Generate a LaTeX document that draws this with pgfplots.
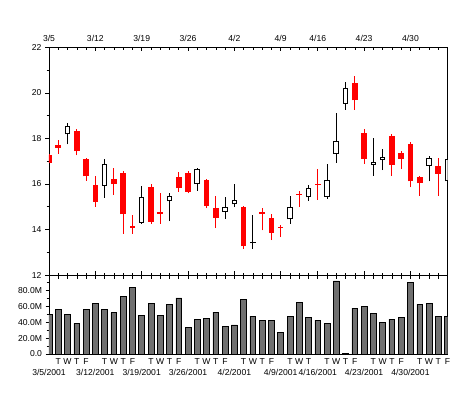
\documentclass[border=0pt]{standalone}
\usepackage{fontspec}
\setmainfont{Liberation Sans}
\usepackage{pgfplots}
\usepackage{pgfplotstable}
\pgfplotsset{compat=1.18}
\definecolor{volgray}{RGB}{112,112,112}

\pgfplotstableread{
x o h l c
0 17.28 17.32 16.92 16.94
1 17.70 17.93 17.33 17.60
3 18.35 18.42 17.26 17.45
4 17.09 17.16 16.14 16.33
5 15.97 16.33 15.01 15.23
7 16.24 16.72 15.52 16.00
8 16.48 16.58 13.82 14.66
9 14.14 14.62 13.82 14.08
11 15.85 16.00 14.25 14.35
12 14.75 15.60 14.25 14.70
14 16.29 16.54 15.66 15.82
15 16.50 16.58 15.59 15.66
17 16.17 16.22 14.94 15.05
18 14.94 15.46 14.06 14.50
21 14.98 15.05 13.16 13.26
23 14.75 14.95 13.96 14.70
24 14.50 14.66 13.53 13.86
25 14.13 14.18 13.67 14.08
27 15.56 15.70 15.01 15.51
29 16.02 16.65 15.30 15.97
33 20.46 20.75 19.27 19.68
34 18.25 18.42 16.90 17.12
37 18.10 18.21 16.36 16.84
38 17.38 17.45 16.65 17.12
39 17.74 17.84 15.85 16.11
40 16.29 16.36 15.49 16.03
42 16.77 17.13 15.49 16.44
}\downdata

\pgfplotstableread{
x o h l c
2 18.18 18.69 17.74 18.57
6 15.92 17.09 15.39 16.90
10 14.30 15.90 14.25 15.43
13 15.24 15.59 14.37 15.49
16 16.00 16.72 15.71 16.65
19 14.79 15.41 14.47 14.98
20 15.10 16.00 14.98 15.30
22 13.39 14.62 13.16 13.43
26 14.44 15.46 14.25 14.97
28 15.41 15.97 15.27 15.81
30 15.43 16.87 15.36 16.18
31 17.31 19.12 16.94 17.89
32 19.53 20.50 19.27 20.24
35 16.85 18.00 16.36 16.95
36 17.05 17.53 16.61 17.20
41 16.80 17.23 16.11 17.13
43 16.11 17.15 16.05 17.09
}\updata

\pgfplotstableread{
x v
0 50.0
1 56.0
2 49.6
3 38.3
4 56.0
5 63.3
6 56.0
7 51.7
8 71.7
9 83.3
10 48.3
11 63.3
12 48.3
13 61.7
14 70.4
15 33.3
16 43.3
17 44.6
18 52.5
19 34.2
20 36.5
21 68.3
22 47.5
23 42.5
24 41.7
25 27.5
26 46.7
27 64.6
28 45.4
29 42.5
30 38.75
31 91.7
32 0.8
33 57.5
34 59.6
35 50.8
36 39.6
37 43.75
38 45.4
39 89.6
40 62.1
41 63.75
42 47.5
43 46.7
}\voldata

\pgfplotsset{
  every axis/.append style={
    /pgf/number format/assume math mode=true,
    tick label style={font=\fontsize{8.6}{10}\selectfont},
    axis line style={line width=0.8pt, black},
    tick style={line width=0.6pt, black},
  },
  wick/.style={draw=none, mark=none, forget plot,
    error bars/.cd, y dir=plus, y explicit, error mark=none,
    error bar style={line width=0.8pt, draw=#1}},
  body/.style={draw=none, mark=none, forget plot,
    error bars/.cd, y dir=plus, y explicit, error mark=none,
    error bar style={line width=5.6pt, draw=#1}},
  inner/.style={draw=none, mark=none, forget plot,
    error bars/.cd, y dir=plus, y explicit, error mark=none,
    error bar style={line width=3.6pt, draw=white}},
}

\begin{document}
\begin{tikzpicture}
\path[use as bounding box] (0,0) rectangle (474pt,-412pt);

\begin{axis}[
  at={(49pt,-47.5pt)}, anchor=north west,
  width=398.5pt, height=227.5pt, scale only axis,
  xmin=0, xmax=43, ymin=12, ymax=22,
  xtick={0,5,10,15,20,25,29,34,39},
  xticklabels={3/5,3/12,3/19,3/26,4/2,4/9,4/16,4/23,4/30},
  minor xtick={0,...,43},
  xtick pos=both, xticklabel pos=right,
  xtick align=inside,
  xticklabel style={yshift=2pt},
  ytick={12,14,16,18,20,22},
  minor ytick={13,15,17,19,21},
  ytick pos=left, ytick align=outside,
  major tick length=4pt, minor tick length=2.5pt,
]
\addplot[wick=red] table[x=x, y=l, y error plus expr=\thisrow{h}-\thisrow{l}] {\downdata};
\addplot[wick=black] table[x=x, y=l, y error plus expr=\thisrow{h}-\thisrow{l}] {\updata};
\addplot[body=red] table[x=x, y=c, y error plus expr=\thisrow{o}-\thisrow{c}] {\downdata};
\addplot[body=black] table[x=x, y=o, y error plus expr=\thisrow{c}-\thisrow{o}] {\updata};
\addplot[inner] table[x=x, y expr=\thisrow{o}+0.045, y error plus expr={max(\thisrow{c}-\thisrow{o}-0.09,0)}] {\updata};
\end{axis}

\begin{axis}[
  at={(49pt,-275pt)}, anchor=north west,
  width=398.5pt, height=79pt, scale only axis,
  xmin=0, xmax=43, ymin=0, ymax=99,
  xtick={0,5,10,15,20,25,29,34,39},
  xticklabels={{\strut\\3/5/2001},{\strut\\3/12/2001},{\strut\\3/19/2001},{\strut\\3/26/2001},{\strut\\4/2/2001},{\strut\\4/9/2001},{\strut\\4/16/2001},{\strut\\4/23/2001},{\strut\\4/30/2001}},
  extra x ticks={1,2,3,4,6,7,8,9,11,12,13,14,16,17,18,19,21,22,23,24,26,27,28,30,31,32,33,35,36,37,38,40,41,42,43},
  extra x tick labels={\strut T,\strut W,\strut T,\strut F,\strut T,\strut W,\strut T,\strut F,\strut T,\strut W,\strut T,\strut F,\strut T,\strut W,\strut T,\strut F,\strut T,\strut W,\strut T,\strut F,\strut T,\strut W,\strut T,\strut T,\strut W,\strut T,\strut F,\strut T,\strut W,\strut T,\strut F,\strut T,\strut W,\strut T,\strut F},
  xtick pos=right, xticklabel pos=left,
  xtick align=inside,
  xticklabel style={align=center, font=\fontsize{8.6}{10.5}\selectfont},
  ytick={0,20,40,60,80},
  yticklabels={0.0,20.0M,40.0M,60.0M,80.0M},
  minor ytick={10,30,50,70,90},
  ytick pos=left, ytick align=outside,
  major tick length=3.5pt, minor tick length=2.5pt,
]
\addplot[ybar, bar width=5.8pt, fill=volgray, draw=black, line width=0.6pt] table[x=x, y=v] {\voldata};
\end{axis}
\end{tikzpicture}
\end{document}
